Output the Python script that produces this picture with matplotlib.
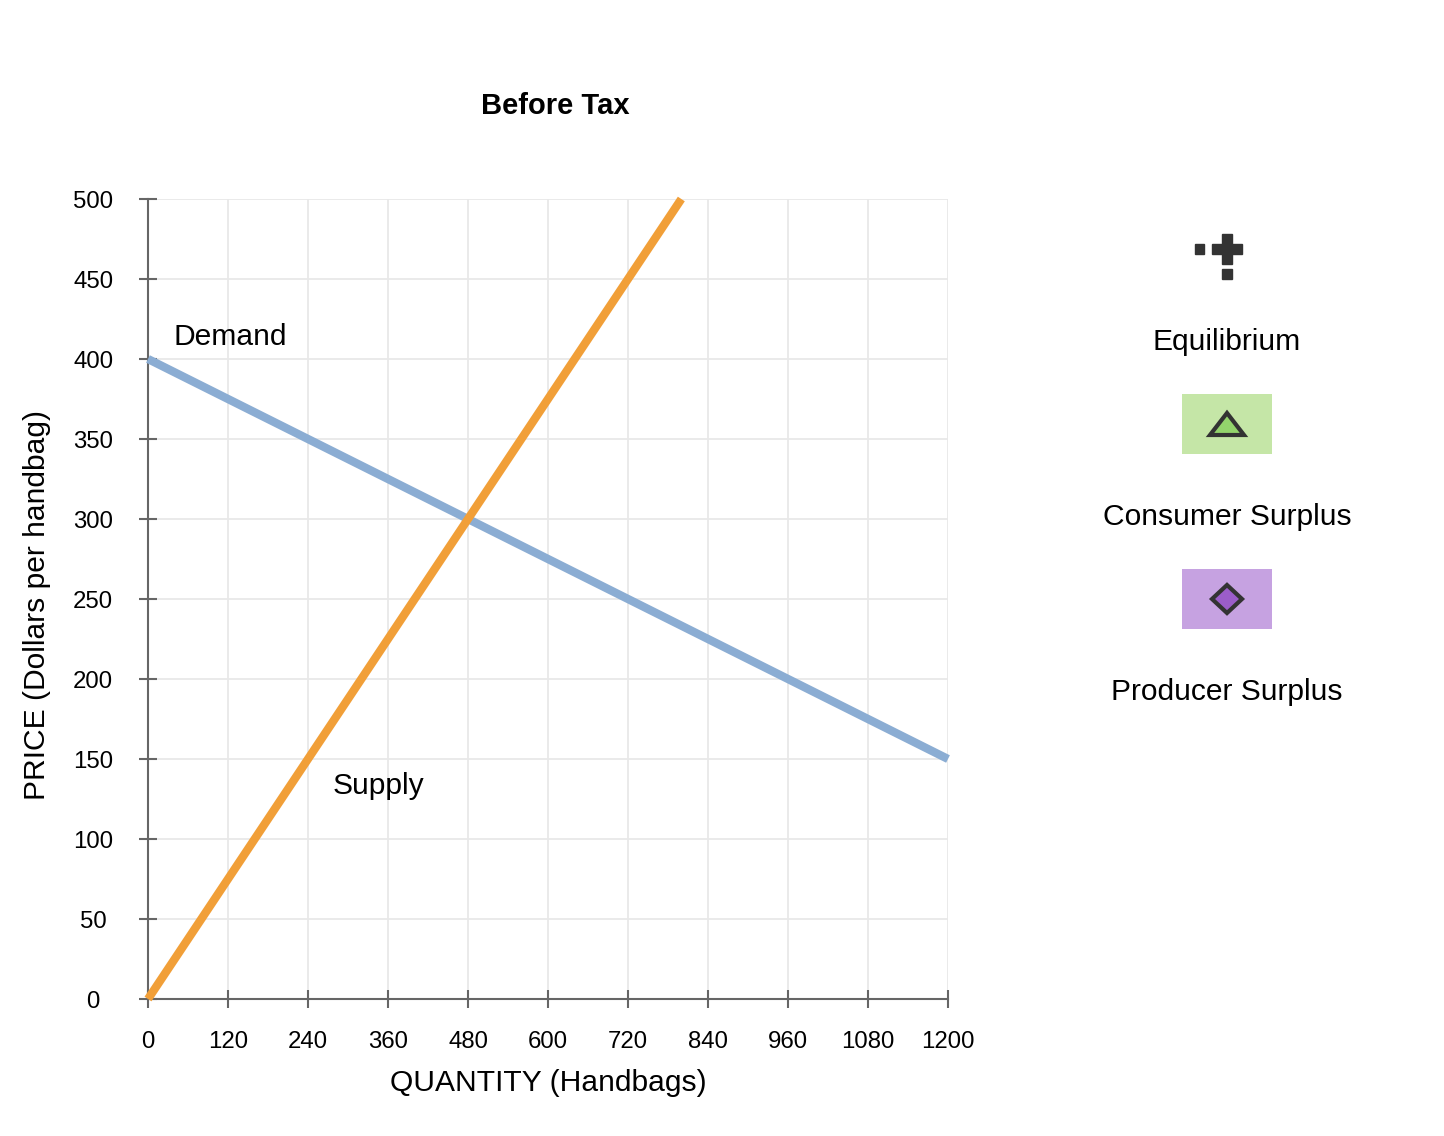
import matplotlib
matplotlib.use("Agg")
import matplotlib.pyplot as plt
from matplotlib.patches import Rectangle, Polygon

plt.rcParams['font.family'] = ['Liberation Sans', 'DejaVu Sans']

# data
quantity_ticks = [0, 120, 240, 360, 480, 600, 720, 840, 960, 1080, 1200]
price_ticks = [0, 50, 100, 150, 200, 250, 300, 350, 400, 450, 500]
demand_q = [0, 1200]
demand_p = [400, 150]
supply_q = [0, 800]
supply_p = [0, 500]
legend_items = ["Equilibrium", "Consumer Surplus", "Producer Surplus"]

W, H = 1444, 1136
fig = plt.figure(figsize=(W / 100, H / 100), dpi=100)
ax = fig.add_axes([148 / W, 137 / H, 800 / W, 800 / H])

ax.plot(demand_q, demand_p, color='#8badd3', lw=6, solid_capstyle='butt',
        clip_on=False, zorder=3)
ax.plot(supply_q, supply_p, color='#f19f38', lw=6, solid_capstyle='butt',
        clip_on=False, zorder=3)

ax.set_xlim(0, 1200)
ax.set_ylim(0, 500)
ax.set_xticks(quantity_ticks)
ax.set_yticks(price_ticks)
ax.grid(True, color='#e8e8e8', lw=1.3)
ax.set_axisbelow(True)
for s in ['top', 'right']:
    ax.spines[s].set_visible(False)
for s in ['left', 'bottom']:
    ax.spines[s].set_color('#666666')
    ax.spines[s].set_linewidth(1.5)
ax.tick_params(axis='both', direction='inout', length=13, width=1.5,
               color='#666666', labelsize=17.3)
ax.tick_params(axis='x', pad=16.5)
ax.tick_params(axis='y', pad=33)
for lab in ax.get_yticklabels():
    lab.set_horizontalalignment('center')

ax.text(37.5, 413.5, "Demand", fontsize=21.6, ha='left', va='center')
ax.text(277, 133, "Supply", fontsize=21.6, ha='left', va='center')

fig.text(555 / W, 1 - 106 / H, "Before Tax", fontsize=21, fontweight='bold',
         ha='center', va='center')
fig.text(548 / W, 1 - 1083 / H, "QUANTITY (Handbags)", fontsize=21.6,
         ha='center', va='center')
fig.text(37 / W, 1 - 605 / H, "PRICE (Dollars per handbag)", fontsize=21.6,
         ha='center', va='center', rotation=90)

# legend panel in pixel coordinates
lg = fig.add_axes([0, 0, 1, 1])
lg.set_xlim(0, W)
lg.set_ylim(H, 0)
lg.axis('off')
lg.patch.set_alpha(0)

dark = '#333333'
# equilibrium icon
lg.add_patch(Rectangle((1195, 244), 9, 10, color=dark))
lg.add_patch(Rectangle((1212, 244), 30, 10, color=dark))
lg.add_patch(Rectangle((1222, 234), 10, 30, color=dark))
lg.add_patch(Rectangle((1222, 269), 10, 10, color=dark))

# consumer surplus icon
lg.add_patch(Rectangle((1182, 394), 90, 60, color='#c5e6a7', lw=0))
lg.add_patch(Polygon([(1227, 413), (1210, 435), (1244, 435)], closed=True,
                     facecolor='#93d46c', edgecolor=dark, lw=3, joinstyle='miter'))

# producer surplus icon
lg.add_patch(Rectangle((1182, 569), 90, 60, color='#c6a2e1', lw=0))
lg.add_patch(Polygon([(1227, 585), (1242, 599), (1227, 613), (1212, 599)], closed=True,
                     facecolor='#9b5dc9', edgecolor=dark, lw=3, joinstyle='miter'))

for label, y in zip(legend_items, [342, 517, 692]):
    lg.text(1227, y, label, fontsize=21.6, ha='center', va='center')

fig.savefig("out.png", dpi=100, facecolor='white')
